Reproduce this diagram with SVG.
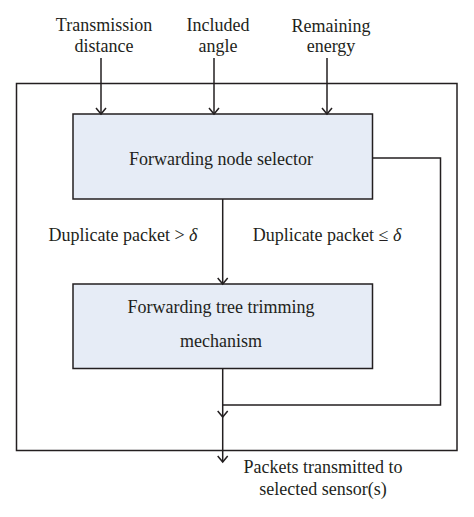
<svg xmlns="http://www.w3.org/2000/svg" width="474" height="517" viewBox="0 0 474 517">
<defs>
<style>
text{font-family:"Liberation Serif","Times New Roman",serif;font-size:18px;fill:#231f20;text-anchor:middle}
.it{font-style:italic}
.ln{fill:none;stroke:#231f20;stroke-width:1.5}
.box{fill:#e6ecf6;stroke:#231f20;stroke-width:1.5}
</style>
<marker id="ah" viewBox="0 0 12 12" refX="10" refY="6" markerWidth="12" markerHeight="12" markerUnits="userSpaceOnUse" orient="auto">
<path d="M4,1 L10,6 L4,11" fill="none" stroke="#231f20" stroke-width="1.5"/>
</marker>
</defs>
<rect width="474" height="517" fill="#fff"/>
<g id="outer"><rect class="ln" x="16.5" y="83.5" width="440.5" height="367"/></g>
<g id="inputs">
<text x="104" y="31">Transmission</text>
<text x="104" y="52">distance</text>
<text x="218" y="31">Included</text>
<text x="218" y="52">angle</text>
<text x="331" y="32">Remaining</text>
<text x="331" y="52">energy</text>
</g>
<g id="selector">
<rect class="box" x="73" y="114" width="299.5" height="85"/>
<text x="221" y="165">Forwarding node selector</text>
</g>
<g id="trimming">
<rect class="box" x="73" y="284" width="299.5" height="84.5"/>
<text x="221" y="313">Forwarding tree trimming</text>
<text x="221" y="347">mechanism</text>
</g>
<g id="labels">
<text x="123" y="241">Duplicate packet &gt; <tspan class="it">δ</tspan></text>
<text x="327" y="241">Duplicate packet ≤ <tspan class="it">δ</tspan></text>
<text x="323" y="473">Packets transmitted to</text>
<text x="323" y="495">selected sensor(s)</text>
</g>
<g id="connectors">
<line class="ln" x1="101" y1="58" x2="101" y2="114" marker-end="url(#ah)"/>
<line class="ln" x1="214" y1="58" x2="214" y2="114" marker-end="url(#ah)"/>
<line class="ln" x1="327" y1="58" x2="327" y2="114" marker-end="url(#ah)"/>
<line class="ln" x1="222.7" y1="199" x2="222.7" y2="284" marker-end="url(#ah)"/>
<polyline class="ln" points="372.5,158 440.5,158 440.5,405 222.7,405"/>
<line class="ln" x1="222.7" y1="368.5" x2="222.7" y2="417" marker-end="url(#ah)"/>
<line class="ln" x1="222.7" y1="417" x2="222.7" y2="462" marker-end="url(#ah)"/>
</g>
</svg>
